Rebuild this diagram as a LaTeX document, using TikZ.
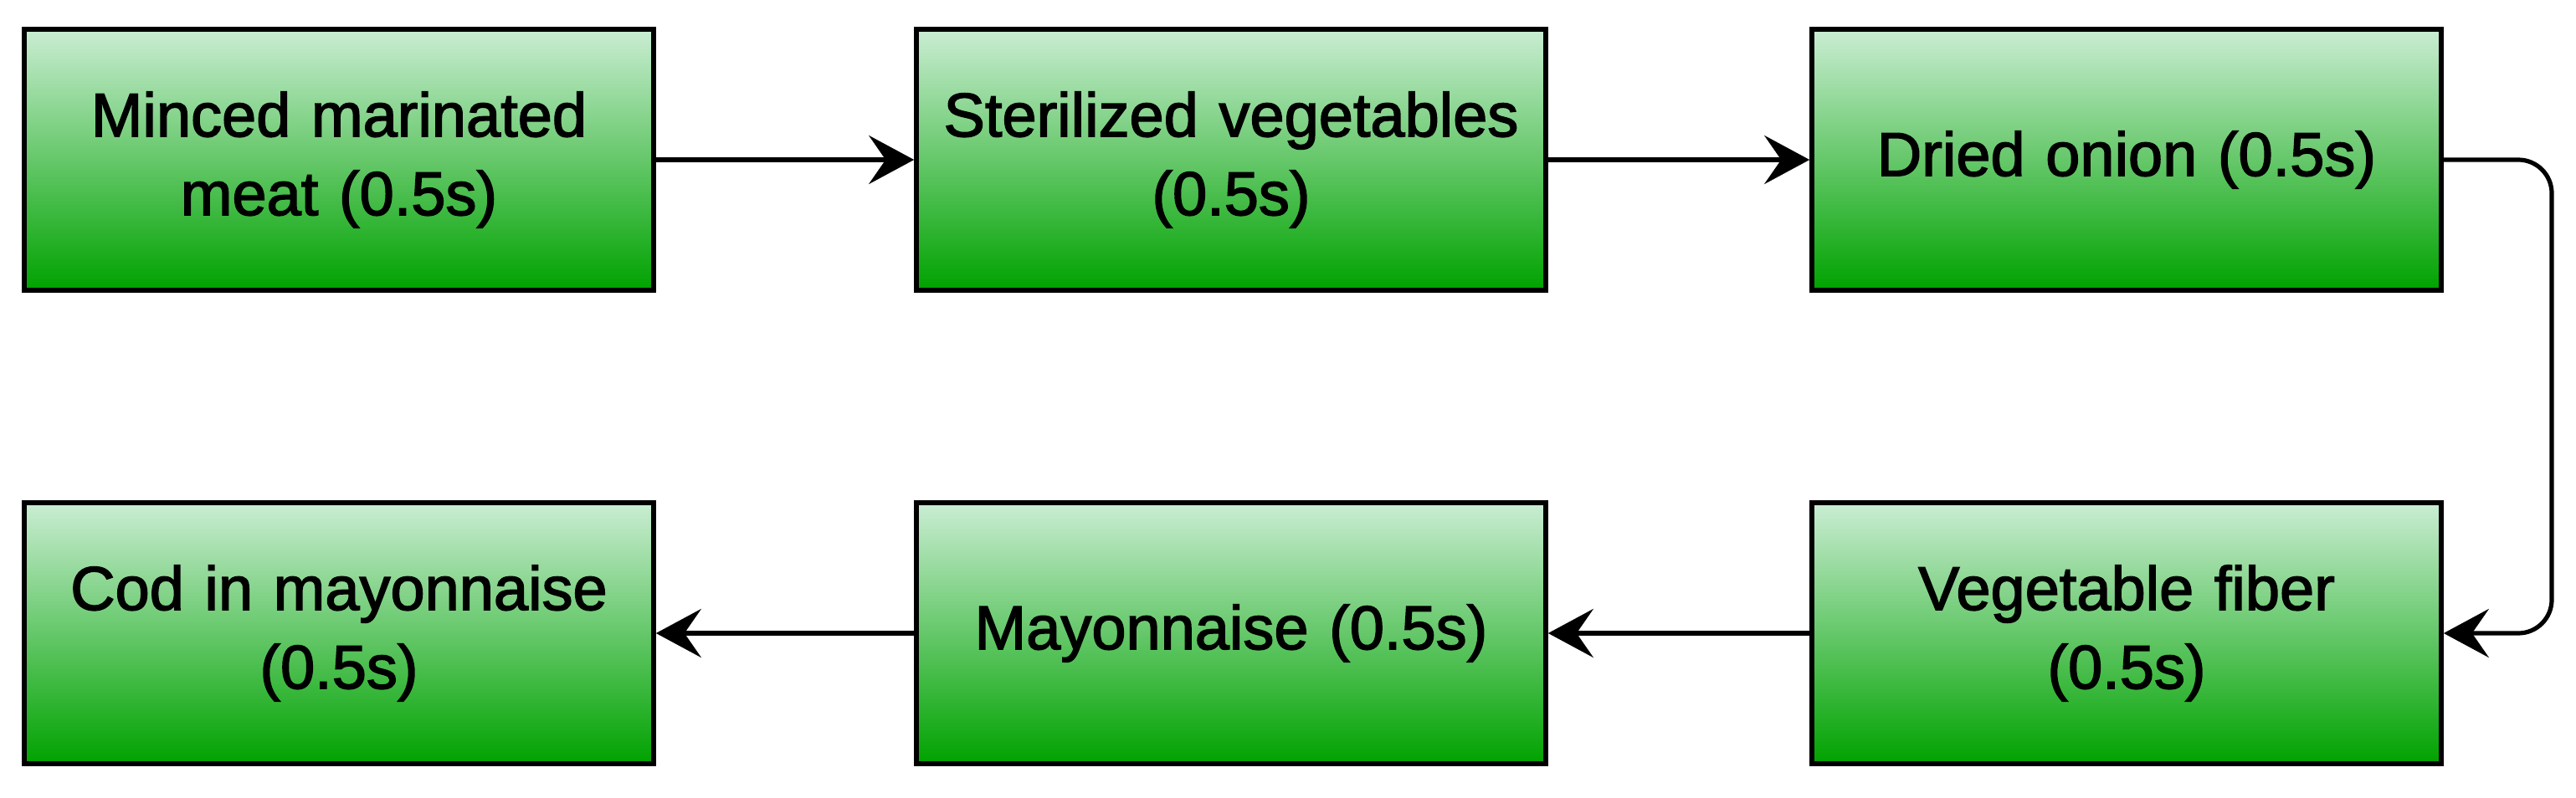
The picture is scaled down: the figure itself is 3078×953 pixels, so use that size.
\documentclass[tikz,border=0pt]{standalone}
\usepackage{fontspec}
\setmainfont{Liberation Sans}
\usetikzlibrary{arrows.meta}
\definecolor{gtop}{HTML}{CAEDD3}
\definecolor{gmid}{HTML}{00C262}
\definecolor{gbot}{HTML}{00A200}
\tikzset{
  stepbox/.style={rectangle, draw=black, line width=2.8pt, inner sep=0pt,
    minimum width=376pt, minimum height=156pt, text width=370pt, align=center,
    top color=gtop, middle color=gmid, bottom color=gbot,
    font=\fontsize{37}{47}\selectfont\addfontfeature{FakeBold=2}},
  arr/.style={draw=black, line width=2.6pt,
    -{Stealth[length=27pt, width=29pt, inset=10pt]}}
}
\begin{document}
\begin{tikzpicture}[x=0.5pt, y=-0.5pt]
\useasboundingbox (0,0) rectangle (3078,953);
\node[stepbox] (n1) at (405,191) {Minced marinated\\meat (0.5s)};
\node[stepbox] (n2) at (1471,191) {Sterilized vegetables\\(0.5s)};
\node[stepbox] (n3) at (2541,191) {Dried onion (0.5s)};
\node[stepbox] (n4) at (2541,757) {Vegetable fiber\\(0.5s)};
\node[stepbox] (n5) at (1471,757) {Mayonnaise (0.5s)};
\node[stepbox] (n6) at (405,757) {Cod in mayonnaise\\(0.5s)};
\coordinate (bend) at (3049,191);
\draw[arr] (n1.east) -- (n2.west);
\draw[arr] (n2.east) -- (n3.west);
\draw[arr, rounded corners=20pt] (n3.east) -- (bend) |- (n4.east);
\draw[arr] (n4.west) -- (n5.east);
\draw[arr] (n5.west) -- (n6.east);
\end{tikzpicture}
\end{document}
